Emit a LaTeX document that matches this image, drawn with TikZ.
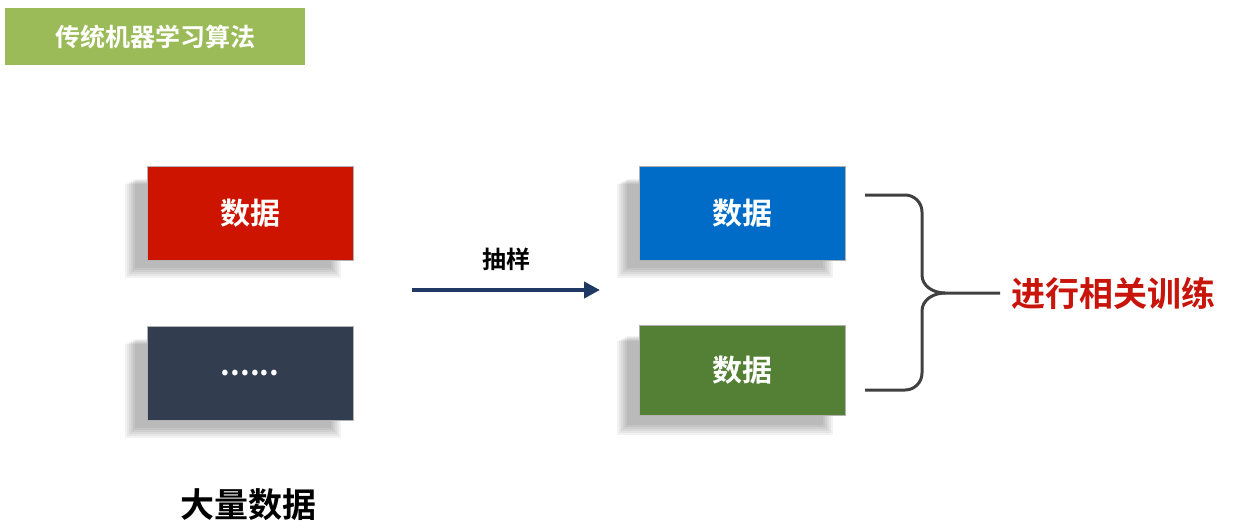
\documentclass[tikz,border=0pt]{standalone}
\usetikzlibrary{arrows.meta}
\usepackage{fontspec}
\setmainfont{Noto Sans CJK SC}[BoldFont={Noto Sans CJK SC Bold}]
\definecolor{titlegreen}{RGB}{155,187,89}
\definecolor{bred}{RGB}{204,20,0}
\definecolor{bdark}{RGB}{50,62,80}
\definecolor{bblue}{RGB}{0,108,200}
\definecolor{bgreen}{RGB}{84,128,53}
\definecolor{arrowblue}{RGB}{31,56,100}
\definecolor{bracegray}{RGB}{64,64,64}
\definecolor{txtred}{RGB}{200,20,10}
\begin{document}
\begin{tikzpicture}[x=1pt,y=-1pt,
  databox/.style={minimum width=206pt,minimum height=94pt,inner sep=0pt,text=white,font=\bfseries\fontsize{30}{36}\selectfont,draw=white!70!black,line width=0.8pt},
  lbl/.style={font=\bfseries\fontsize{34}{40}\selectfont}]
\useasboundingbox (0,0) rectangle (1259,528);
\node[fill=titlegreen,minimum width=300pt,minimum height=57pt,inner sep=0pt,text=white,font=\bfseries\fontsize{25}{30}\selectfont,anchor=north west] (title) at (5,8) {传统机器学习算法};
% shadows
\foreach \cx/\cy in {250/213,250/373,742/213,742/370}{
  \foreach \k in {0,...,5}{
    \fill[black,opacity=0.05] (\cx-103-22+\k*2,\cy-47+18-\k) rectangle (\cx+103-12-\k*2,\cy+47+18-\k*2);
  }
}
\node[databox,fill=bred] (r) at (250,213) {数据};
\node[databox,fill=bdark] (d) at (250,373) {......};
\node[databox,fill=bblue] (b) at (742,213) {数据};
\node[databox,fill=bgreen,minimum height=90pt] (g) at (742,370) {数据};
\coordinate (a1) at (412,290);
\coordinate (a2) at (600,290);
\draw[arrowblue,line width=4pt,-{Triangle[length=16pt,width=16pt]}] (a1) -- (a2) node[midway,above=14pt,text=black,font=\bfseries\fontsize{24}{28}\selectfont] (cy) {抽样};
\coordinate (t1) at (865,195);
\coordinate (t2) at (865,390);
\coordinate (tip) at (1000,293);
\draw[bracegray,line width=3pt] (t1) -- (905,195) to[out=0,in=90] (922,212) -- (922,275) to[out=-90,in=180] (945,293) -- (tip);
\draw[bracegray,line width=3pt] (t2) -- (905,390) to[out=0,in=-90] (922,373) -- (922,311) to[out=90,in=180] (945,293);
\node[lbl,text=txtred,anchor=west] (train) at (1008,293) {进行相关训练};
\node[lbl] (big) at (248,505) {大量数据};
\end{tikzpicture}
\end{document}
